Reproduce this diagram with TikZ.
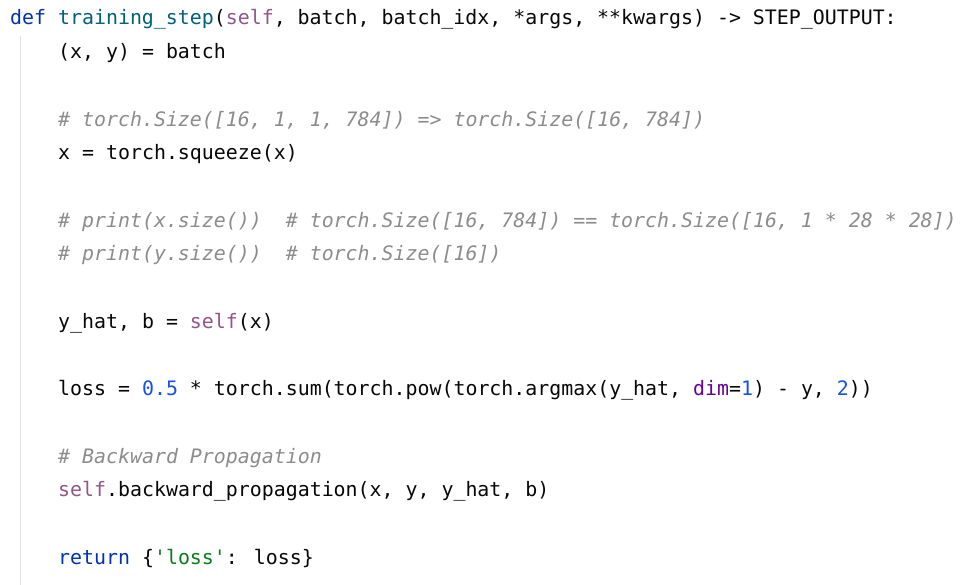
\documentclass[tikz,border=0pt]{standalone}
\usepackage{fontspec}
\newfontfamily\code{DejaVu Sans Mono}
\definecolor{kw}{HTML}{0033B3}
\definecolor{fn}{HTML}{00627A}
\definecolor{sf}{HTML}{94558D}
\definecolor{nm}{HTML}{1750EB}
\definecolor{cm}{HTML}{8C8C8C}
\definecolor{st}{HTML}{067D17}
\definecolor{ka}{HTML}{660099}
\definecolor{tx}{HTML}{080808}
\newcommand{\q}{\char"27}
\begin{document}
\begin{tikzpicture}[x=1pt,y=-1pt,
  ln/.style={anchor=base west,inner sep=0pt,font=\code\fontsize{19.9}{20}\selectfont,text=tx}]
\useasboundingbox[fill=white] (0,0) rectangle (975,585);
\draw[line width=1pt,color=black!12] (20,36) -- (20,585);
\node[ln] (l0) at (10,25) {\textcolor{kw}{def} \textcolor{fn}{training\_step}(\textcolor{sf}{self}, batch, batch\_idx, *args, **kwargs) -> STEP\_OUTPUT:};
\node[ln] (l1) at (58,58.7) {(x, y) = batch};
\node[ln] (l3) at (58,126.1) {\textcolor{cm}{\itshape \# torch.Size([16, 1, 1, 784]) => torch.Size([16, 784])}};
\node[ln] (l4) at (58,159.8) {x = torch.squeeze(x)};
\node[ln] (l6) at (58,227.2) {\textcolor{cm}{\itshape \# print(x.size())\ \ \# torch.Size([16, 784]) == torch.Size([16, 1 * 28 * 28])}};
\node[ln] (l7) at (58,260.9) {\textcolor{cm}{\itshape \# print(y.size())\ \ \# torch.Size([16])}};
\node[ln] (l9) at (58,328.3) {y\_hat, b = \textcolor{sf}{self}(x)};
\node[ln] (l11) at (58,395.7) {loss = \textcolor{nm}{0.5} * torch.sum(torch.pow(torch.argmax(y\_hat, \textcolor{ka}{dim}=\textcolor{nm}{1}) - y, \textcolor{nm}{2}))};
\node[ln] (l13) at (58,463.1) {\textcolor{cm}{\itshape \# Backward Propagation}};
\node[ln] (l14) at (58,496.8) {\textcolor{sf}{self}.backward\_propagation(x, y, y\_hat, b)};
\node[ln] (l16) at (58,564.2) {\textcolor{kw}{return} \{\textcolor{st}{\q loss\q}: loss\}};
\end{tikzpicture}
\end{document}
